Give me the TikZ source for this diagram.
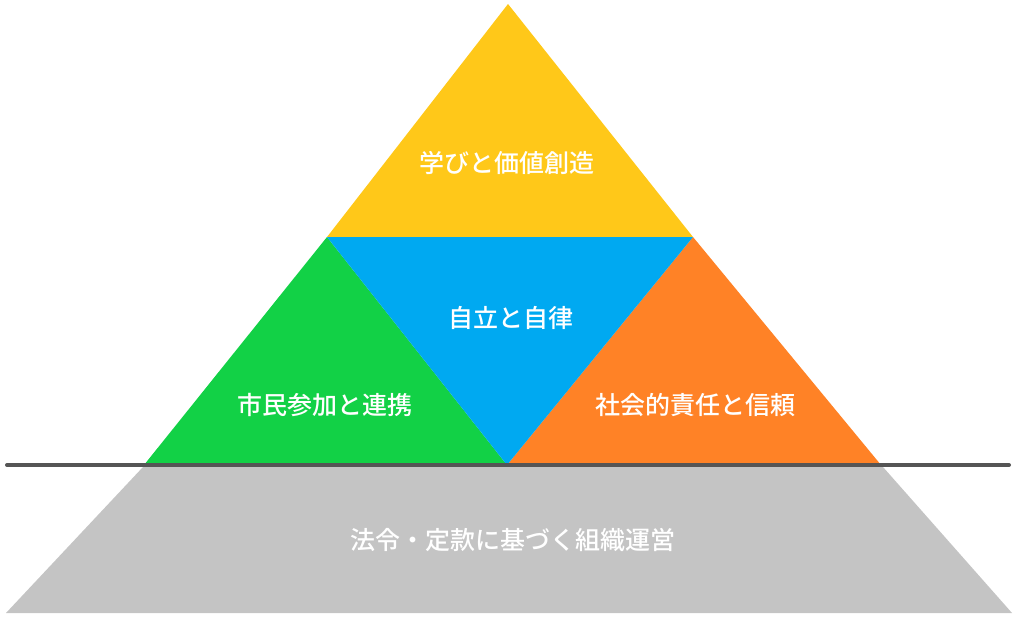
\documentclass[tikz,border=0pt]{standalone}
\usepackage{fontspec}
\newfontfamily\cjk{Noto Sans CJK JP Medium}
\definecolor{cyel}{HTML}{FFC819}
\definecolor{cblu}{HTML}{00A9F1}
\definecolor{cgrn}{HTML}{12D146}
\definecolor{corg}{HTML}{FF8226}
\definecolor{cgry}{HTML}{C4C4C4}
\definecolor{cline}{HTML}{555555}
\begin{document}
\begin{tikzpicture}[x=1pt,y=-1pt,
  lbl/.style={text=white,font=\cjk\fontsize{25}{30}\selectfont,inner sep=0pt}]
\useasboundingbox (0,0) rectangle (1024,636);
% coordinates
\coordinate (apex) at (508,4);
\coordinate (yl) at (327,237);
\coordinate (yr) at (693,237);
\coordinate (bl) at (144,465);
\coordinate (bm) at (507,465);
\coordinate (br) at (881,465);
\coordinate (gtl) at (143,467);
\coordinate (gtr) at (883,467);
\coordinate (gbl) at (6,613);
\coordinate (gbr) at (1012,613);
\coordinate (ll) at (7,465);
\coordinate (lr) at (1009,465);
% shapes
\fill[cgry] (gtl) -- (gtr) -- (gbr) -- (gbl) -- cycle;
\fill[cyel] (apex) -- (yr) -- (yl) -- cycle;
\fill[cgrn] (yl) -- (bm) -- (bl) -- cycle;
\fill[corg] (yr) -- (br) -- (bm) -- cycle;
\fill[cblu] (yl) -- (yr) -- (bm) -- cycle;
\draw[cline,line width=4pt,line cap=round] (ll) -- (lr);
% labels
\node[lbl] (t1) at (507,163) {学びと価値創造};
\node[lbl] (t2) at (511,318) {自立と自律};
\node[lbl] (t3) at (325,405) {市民参加と連携};
\node[lbl] (t4) at (695,405) {社会的責任と信頼};
\node[lbl] (t5) at (513,540) {法令・定款に基づく組織運営};
\end{tikzpicture}
\end{document}
